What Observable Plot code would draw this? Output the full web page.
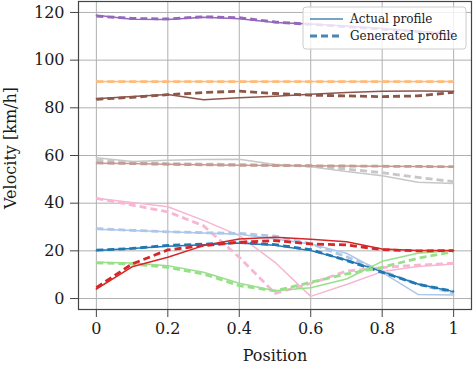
<!DOCTYPE html>
<html>
<head>
<meta charset="utf-8">
<script src="https://cdn.jsdelivr.net/npm/d3@7"></script>
<script src="https://cdn.jsdelivr.net/npm/@observablehq/plot@0.6"></script>
<style>
  html, body { margin: 0; padding: 0; background: #fff; }
  #chart svg { display: block; }
  #chart svg, #chart svg text { font-family: "DejaVu Serif" !important; }
</style>
</head>
<body>
<div id="chart"></div>
<script>
const positions = [0, 0.1, 0.2, 0.3, 0.4, 0.5, 0.6, 0.7, 0.8, 0.9, 1];
const xTicks = [0, 0.2, 0.4, 0.6, 0.8, 1];
const yTicks = [0, 20, 40, 60, 80, 100, 120];
const colors = ["#9467bd", "#ffbb78", "#8c564b", "#c7c7c7", "#c49c94", "#f7b6d2", "#aec7e8", "#1f77b4", "#98df8a", "#d62728"];
const legendLabels = ["Actual profile", "Generated profile"];

const actual = [
  [118.8, 117.2, 117.0, 118.0, 117.4, 115.8, 115.2, 114.3, 113.3, 112.1, 110.9],
  [91.0, 91.0, 91.0, 91.0, 91.0, 91.0, 91.0, 91.0, 91.0, 91.0, 91.0],
  [83.8, 84.7, 85.6, 83.4, 84.2, 84.9, 85.7, 86.4, 87.0, 87.1, 87.0],
  [59.1, 57.5, 58.0, 58.3, 58.4, 56.2, 55.3, 53.3, 51.5, 48.8, 48.3],
  [56.8, 56.6, 56.3, 56.1, 55.9, 55.8, 55.7, 55.6, 55.5, 55.4, 55.3],
  [42.1, 40.3, 38.5, 32.8, 26.4, 15.2, 0.9, 5.9, 11.3, 13.4, 14.5],
  [29.1, 28.5, 28.0, 27.5, 27.0, 25.0, 22.9, 19.0, 11.0, 1.7, 1.5],
  [20.1, 21.0, 21.9, 22.6, 23.3, 22.4, 20.1, 16.2, 11.3, 6.1, 2.9],
  [15.2, 14.9, 13.8, 11.0, 6.4, 3.3, 4.5, 8.2, 15.6, 19.0, 20.1],
  [4.0, 13.3, 17.3, 22.2, 25.0, 25.7, 24.9, 23.8, 20.8, 20.1, 20.1]
];
const generated = [
  [118.5, 117.5, 117.3, 118.2, 117.8, 116.0, 115.0, 114.0, 113.0, 112.0, 111.0],
  [91.0, 91.0, 91.0, 91.0, 91.0, 91.0, 91.0, 91.0, 91.0, 91.0, 91.0],
  [83.6, 84.4, 85.5, 86.4, 87.0, 86.0, 85.3, 85.0, 84.7, 85.0, 86.5],
  [58.0, 57.2, 56.6, 56.4, 56.2, 56.0, 55.6, 54.3, 52.8, 50.8, 49.0],
  [56.9, 56.6, 56.3, 56.1, 55.9, 55.8, 55.7, 55.6, 55.5, 55.4, 55.3],
  [42.0, 39.2, 36.4, 30.5, 17.3, 2.2, 6.3, 11.5, 13.0, 14.0, 14.8],
  [29.3, 28.6, 28.0, 27.6, 27.3, 26.2, 23.0, 17.5, 11.5, 6.0, 2.3],
  [20.3, 21.0, 22.3, 22.8, 23.5, 22.6, 20.5, 16.0, 11.0, 6.0, 3.0],
  [15.0, 14.5, 13.1, 10.3, 5.4, 3.2, 6.8, 10.3, 13.1, 16.9, 19.7],
  [4.6, 14.5, 20.4, 22.2, 23.6, 24.3, 22.9, 22.5, 20.5, 20.0, 20.1]
];

const toRows = (vals) => vals.map((v, j) => ({x: positions[j], y: v}));
const serif = "DejaVu Serif";

const marks = [
  Plot.gridX(xTicks, {stroke: "#b0b0b0", strokeOpacity: 1, strokeWidth: 1}),
  Plot.gridY(yTicks, {stroke: "#b0b0b0", strokeOpacity: 1, strokeWidth: 1})
];
colors.forEach((c, i) => {
  marks.push(Plot.line(toRows(actual[i]), {x: "x", y: "y", stroke: c, strokeWidth: 1.5}));
  marks.push(Plot.line(toRows(generated[i]), {x: "x", y: "y", stroke: c, strokeWidth: 2.8, strokeDasharray: "7,4", strokeLinecap: "butt"}));
});
marks.push(
  Plot.axisX({ticks: xTicks, tickSize: 8, tickPadding: 5, tickFormat: d3.format("~g"), label: null, stroke: "#444", fill: "#1a1a1a"}),
  Plot.axisY({ticks: yTicks, tickSize: 8, tickPadding: 6, label: null, stroke: "#444", fill: "#1a1a1a"}),
  Plot.frame({stroke: "#444", strokeWidth: 1.2})
);

const chart = Plot.plot({
  width: 474,
  height: 366,
  marginLeft: 78,
  marginRight: 3,
  marginTop: 1,
  marginBottom: 57,
  x: {domain: [-0.05, 1.05]},
  y: {domain: [-4.6, 124.6]},
  style: {fontFamily: serif, fontSize: "16px", background: "#fff", color: "#1a1a1a"},
  marks
});

const svg = d3.select(chart);
svg.append("text").attr("x", 275).attr("y", 361).attr("text-anchor", "middle")
  .attr("font-size", 16).attr("fill", "#1a1a1a").text("Position");
svg.append("text").attr("transform", "translate(16,148) rotate(-90)").attr("text-anchor", "middle")
  .attr("font-size", 16).attr("fill", "#1a1a1a").text("Velocity [km/h]");
const lg = svg.append("g").attr("font-size", 12).attr("fill", "#1a1a1a");
lg.append("rect").attr("x", 303).attr("y", 7).attr("width", 163).attr("height", 42).attr("rx", 3)
  .attr("fill", "#fff").attr("fill-opacity", 0.8).attr("stroke", "#ccc");
lg.append("line").attr("x1", 310).attr("x2", 343).attr("y1", 19).attr("y2", 19)
  .attr("stroke", "#4a86b4").attr("stroke-width", 1.5);
lg.append("line").attr("x1", 310).attr("x2", 343).attr("y1", 36).attr("y2", 36)
  .attr("stroke", "#4a86b4").attr("stroke-width", 2.8).attr("stroke-dasharray", "7,4");
lg.append("text").attr("x", 350).attr("y", 19).attr("dy", "0.35em").attr("text-anchor", "start").text(legendLabels[0]);
lg.append("text").attr("x", 350).attr("y", 36).attr("dy", "0.35em").attr("text-anchor", "start").text(legendLabels[1]);

document.getElementById("chart").appendChild(chart);
</script>
</body>
</html>
